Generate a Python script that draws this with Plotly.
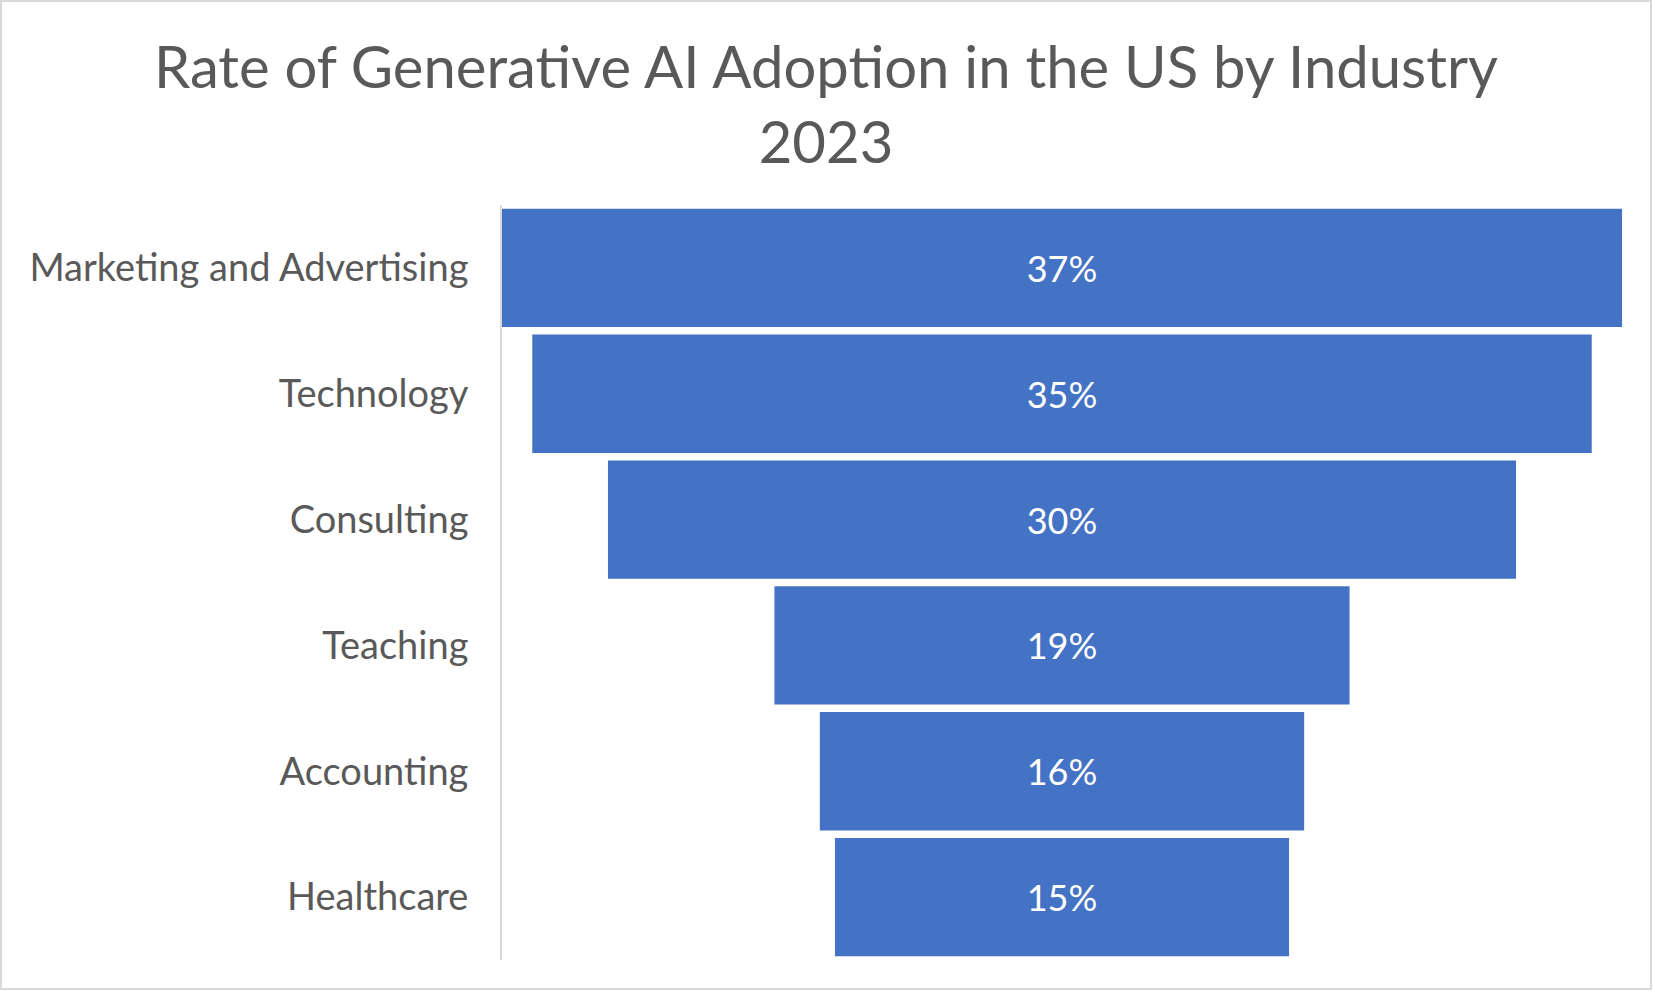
import plotly.graph_objects as go

industries = ["Marketing and Advertising", "Technology", "Consulting", "Teaching", "Accounting", "Healthcare"]
adoption = [37, 35, 30, 19, 16, 15]

title_text = "Rate of Generative AI Adoption in the US by Industry<br>2023"

W, H = 1653, 991
ml, mr, mt, mb = 502, 31, 205, 31

fig = go.Figure(go.Funnel(
    y=industries,
    x=adoption,
    texttemplate="%{x}%",
    textposition="inside",
    insidetextanchor="middle",
    textfont=dict(family="Lato", size=36, color="white"),
    marker=dict(color="#4472C4"),
    connector=dict(visible=False),
    hoverinfo="skip",
))

pw = W - ml - mr
ph = H - mt - mb
fig.add_shape(type="rect", xref="paper", yref="paper",
              x0=(1 - ml) / pw, x1=(W - 2 - ml) / pw,
              y0=(-(mb - 2)) / ph, y1=(H - mb - 1) / ph,
              line=dict(color="#D9D9D9", width=2), fillcolor="rgba(0,0,0,0)", layer="below")

fig.update_layout(
    width=W, height=H,
    margin=dict(l=ml, r=mr, t=mt, b=mb),
    paper_bgcolor="white", plot_bgcolor="white",
    funnelgap=0.06,
    showlegend=False,
    title=dict(text=title_text, x=826 / W, xref="container", xanchor="center",
               y=1 - 88 / H, yref="container", yanchor="top",
               font=dict(family="Lato", size=58, color="#595959")),
    xaxis=dict(visible=False, range=[-18.5, 18.5]),
    yaxis=dict(showline=True, linecolor="#D9D9D9", linewidth=2, ticks="",
               ticklabelstandoff=24,
               tickfont=dict(family="Lato", size=38, color="#595959")),
    font=dict(family="Lato", color="#595959"),
)

fig.write_html("out.html")
